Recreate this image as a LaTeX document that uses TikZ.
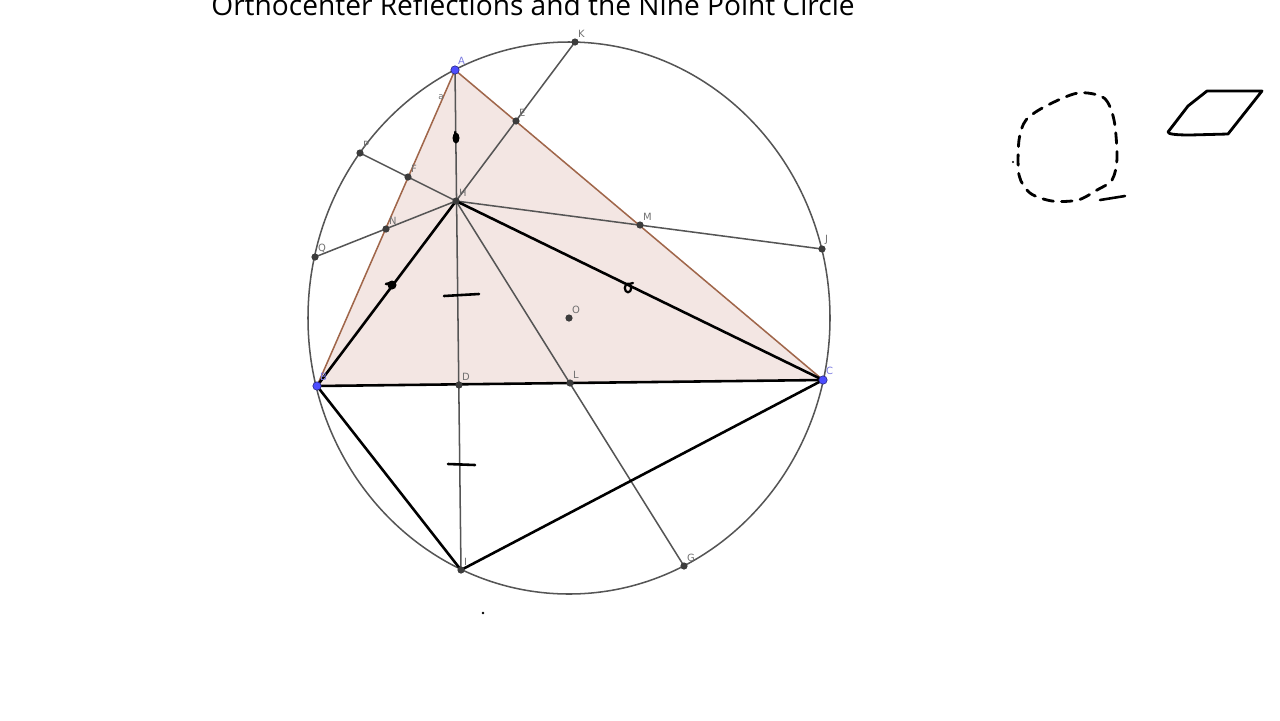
\documentclass[tikz,border=0pt]{standalone}
\usepackage{fontspec}
\setmainfont{DejaVu Sans}
\newfontfamily\titlefont{Open Sans}
\usetikzlibrary{calc}

\definecolor{geogray}{HTML}{555555}
\definecolor{tribrown}{HTML}{A0664A}
\definecolor{trifill}{HTML}{F3E6E3}
\definecolor{ptblue}{HTML}{4D4DFF}
\definecolor{lblgray}{HTML}{707070}
\definecolor{lblblue}{HTML}{7A7AE0}

\tikzset{
  geoline/.style={draw=geogray, line width=1.3pt},
  sideline/.style={draw=tribrown, line width=1.3pt},
  boldline/.style={draw=black, line width=2.2pt, line cap=round},
  ink/.style={draw=black, line width=2.2pt, line cap=round, line join=round},
  lbl/.style={text=lblgray, font=\fontsize{8.5}{10}\selectfont, inner sep=0pt, anchor=south west},
  lblb/.style={lbl, text=lblblue},
}

\begin{document}
\begin{tikzpicture}[x=0.03cm,y=-0.03cm]
  \useasboundingbox (0,0) rectangle (1280,720);

  % Points

  \coordinate (A) at (455,70);
  \coordinate (B) at (317,386);
  \coordinate (C) at (823,380);
  \coordinate (O) at (569,318);
  \coordinate (H) at (456,201);
  \coordinate (K) at (575,42);
  \coordinate (E) at (516,121);
  \coordinate (P) at (360,153);
  \coordinate (F) at (408,177);
  \coordinate (N) at (386,229);
  \coordinate (Q) at (315,257);
  \coordinate (M) at (640,225);
  \coordinate (J) at (822,249);
  \coordinate (D) at (459,385);
  \coordinate (L) at (570,383);
  \coordinate (I) at (461,570);
  \coordinate (G) at (684,566);

  % Title

  \node[font=\titlefont\fontsize{24}{28}\selectfont, anchor=base] (title) at (533,15)
    {Orthocenter Reflections and the Nine Point Circle};

  % Triangle and circle

  \fill[trifill] (A) -- (B) -- (C) -- cycle;
  \draw[geoline] (O) ellipse [x radius=261, y radius=276];

  % Lines through H

  \draw[geoline] (A) -- (I);
  \draw[geoline] (K) -- (H);
  \draw[geoline] (P) -- (H);
  \draw[geoline] (Q) -- (H);
  \draw[geoline] (H) -- (J);
  \draw[geoline] (H) -- (G);

  \draw[sideline] (A) -- (B);
  \draw[sideline] (A) -- (C);

  \draw[boldline] (B) -- (C);
  \draw[boldline] (B) -- (H) -- (C);
  \draw[boldline] (B) -- (I) -- (C);

  % Dots and labels

  \foreach \p in {K,E,P,F,H,N,Q,M,J,O,D,L,I,G} {
    \fill[fill=geogray!70!black] (\p) circle (3.6);
    \node[lbl] (l\p) at ([shift={(3,-4)}]\p) {\p};
  }
  \foreach \p in {A,B,C} {
    \filldraw[fill=ptblue, draw=ptblue!50!black, line width=0.5pt] (\p) circle (4.2);
    \node[lblb] (l\p) at ([shift={(3,-5)}]\p) {\p};
  }
  \node[text=lblgray, font=\fontsize{7.5}{9}\selectfont, inner sep=0pt] (segA) at (441,97) {a};

  % Hand marks

  \fill[black] (456,138) ellipse [x radius=3.5, y radius=5.5];
  \draw[ink] (455,132) -- (455,141);
  \fill[black] (392,285) circle (4.5);
  \draw[ink] (386,284) -- (391,283);
  \draw[ink, line width=1.9pt] (628,288) ellipse [x radius=3.2, y radius=4.3];
  \draw[ink, line width=1.9pt] (629,284) -- (633,283);
  \draw[ink] (444,296) -- (479,294);
  \draw[ink] (448,464) -- (475,465);
  \fill[black] (483,613) circle (1.4);

  % Sketches on the right

  \draw[ink, line width=2.4pt, dash pattern=on 9pt off 7pt]
    plot[smooth cycle] coordinates {(1078,93) (1104,98) (1114,120) (1117,158) (1112,180)
      (1097,190) (1078,200) (1052,201) (1030,193) (1019,175) (1019,140) (1026,120) (1046,106)};
  \draw[ink] (1100,200) -- (1125,196);
  \fill[black] (1013,162) circle (1.2);
  \draw[ink, line width=2.4pt] (1207,91) -- (1262,91) -- (1228,134) -- (1190,135)
    .. controls (1175,135) and (1168,134) .. (1168,132) -- (1188,106) -- cycle;
\end{tikzpicture}
\end{document}
